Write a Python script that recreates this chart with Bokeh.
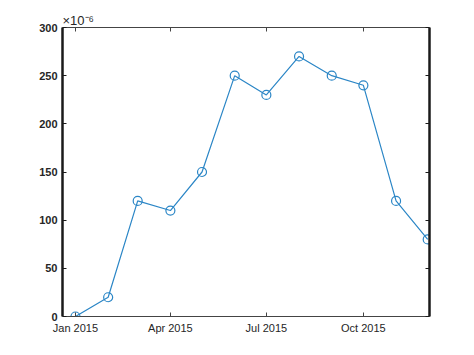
from datetime import datetime, timedelta
from bokeh.plotting import figure
from bokeh.models import (Range1d, LinearAxis, DatetimeAxis, FixedTicker,
                          DatetimeTickFormatter)
from bokeh.embed import file_html
from bokeh.resources import INLINE

# Data (values in units of 1e-6)
months = [datetime(2015, m, 1) for m in range(1, 13)]
values_e6 = [0, 20, 120, 110, 150, 250, 230, 270, 250, 240, 120, 80]
y_ticks = [0, 50, 100, 150, 200, 250, 300]
x_tick_dates = [datetime(2015, 1, 1), datetime(2015, 4, 1), datetime(2015, 7, 1), datetime(2015, 10, 1)]
exponent_text = "\u00d710\u207b\u2076"

def ms(d):
    return (d - datetime(1970, 1, 1)).total_seconds() * 1000.0

x_ticks_ms = [ms(d) for d in x_tick_dates]

W, H = 474, 355
BL, BR, BT, BB = 62, 45, 27, 39
x0 = datetime(2015, 1, 1) - timedelta(days=12.3)
p = figure(width=W, height=H, output_backend="svg", toolbar_location=None,
           x_axis_type=None, y_axis_type=None, title=exponent_text,
           x_range=Range1d(x0, datetime(2015, 1, 1) + timedelta(days=335.7)),
           y_range=Range1d(0, 300),
           min_border_left=BL, min_border_right=BR, min_border_top=BT, min_border_bottom=BB)
p.outline_line_color = None
p.background_fill_color = "white"
p.border_fill_color = "white"

AX = "#262626"
p.title.align = "left"
p.title.offset = 0
p.title.standoff = 0
p.title.text_font = "Liberation Sans"
p.title.text_font_size = "13px"
p.title.text_font_style = "normal"
p.title.text_color = AX

fmt = DatetimeTickFormatter(months="%b %Y", days="%b %Y", years="%b %Y",
                            hours="%b %Y", minutes="%b %Y", seconds="%b %Y",
                            milliseconds="%b %Y", microseconds="%b %Y",
                            hourmin="%b %Y", minsec="%b %Y")

def style(ax, labels, lw, color=AX):
    ax.axis_line_color = color
    ax.axis_line_width = lw
    ax.major_tick_line_color = color
    ax.major_tick_line_width = 1
    ax.major_tick_in = 4
    ax.major_tick_out = 0
    ax.minor_tick_line_color = None
    if not labels:
        ax.major_label_text_font_size = "0px"
        ax.major_label_text_color = None
        ax.major_label_standoff = 0
    else:
        ax.major_label_text_font = "Liberation Sans"
        ax.major_label_text_font_size = "11px"
        ax.major_label_text_color = AX

bx = DatetimeAxis(ticker=FixedTicker(ticks=x_ticks_ms), formatter=fmt)
style(bx, True, 1, "#444444")
bx.major_label_standoff = 5
tx = DatetimeAxis(ticker=FixedTicker(ticks=x_ticks_ms), formatter=fmt)
style(tx, False, 1, "#444444")
ly = LinearAxis(ticker=FixedTicker(ticks=y_ticks))
style(ly, True, 2.5, "#1a1a1a")
ly.major_label_text_font_style = "bold"
ly.major_label_standoff = 5
ry = LinearAxis(ticker=FixedTicker(ticks=y_ticks))
style(ry, False, 2.5, "#1a1a1a")
p.add_layout(bx, "below")
p.add_layout(tx, "above")
p.add_layout(ly, "left")
p.add_layout(ry, "right")
p.xgrid.visible = False
p.ygrid.visible = False

c = "#2b86c6"
p.line(months, values_e6, line_color=c, line_width=1.2)
p.scatter(months, values_e6, marker="circle", size=9, fill_color=None, line_color=c, line_width=1.2)

open("out.html", "w").write(file_html(p, INLINE))
